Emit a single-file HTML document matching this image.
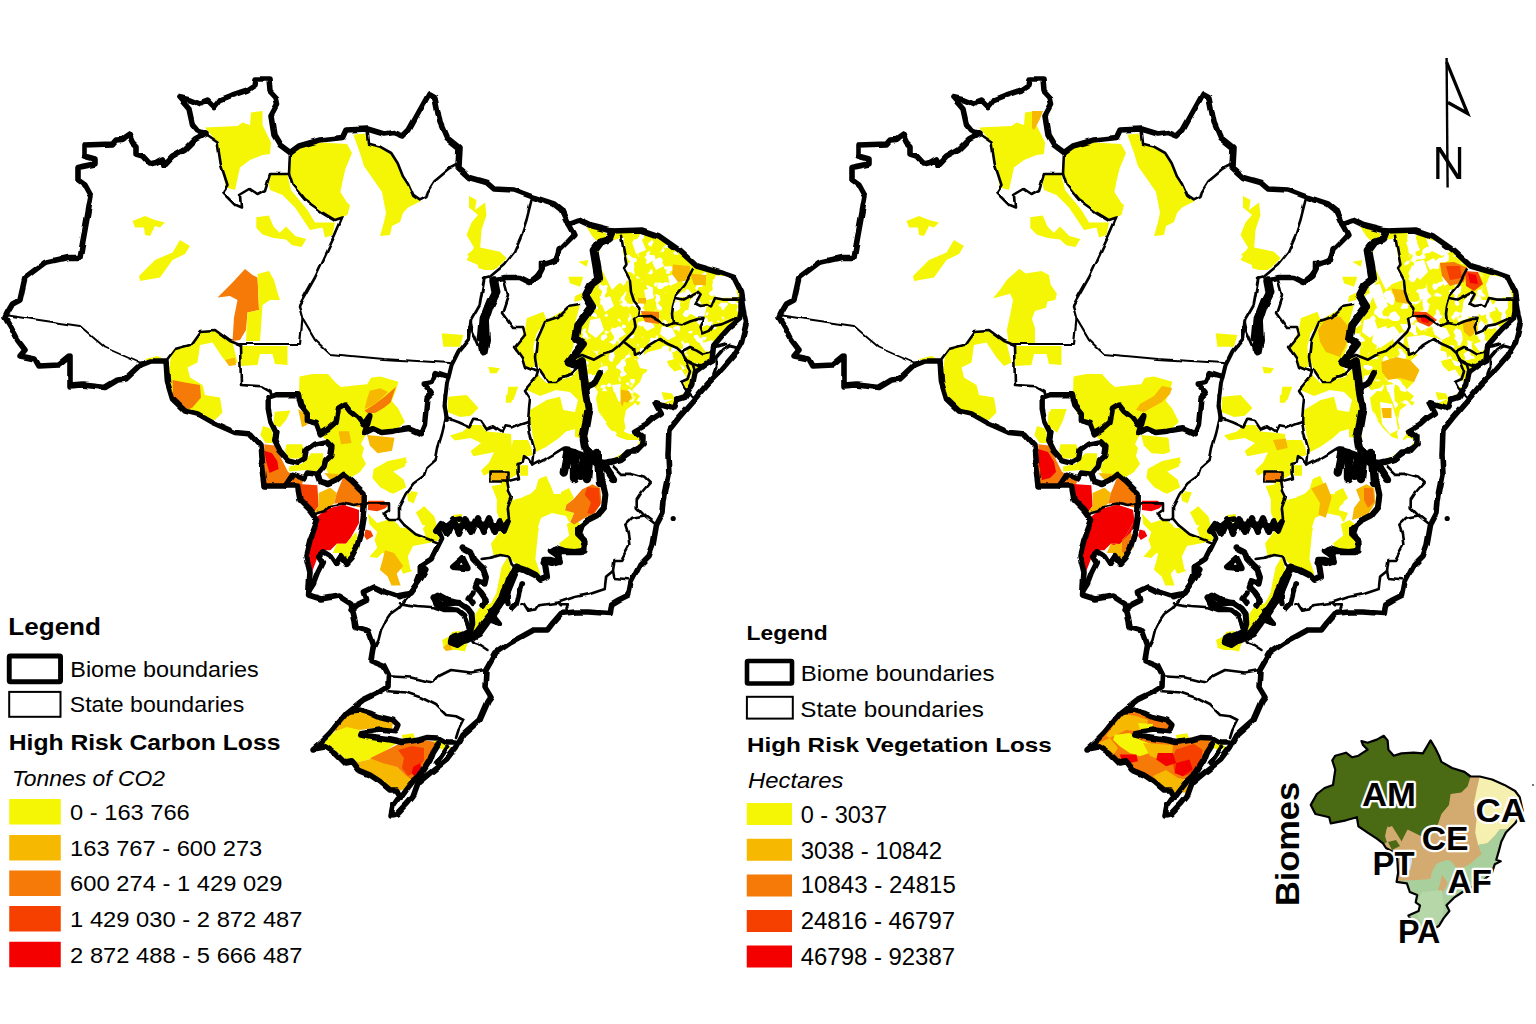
<!DOCTYPE html>
<html><head><meta charset="utf-8"><title>Brazil high risk carbon and vegetation loss</title>
<style>
html,body{margin:0;padding:0;background:#fff;}
body{width:1536px;height:1024px;overflow:hidden;font-family:"Liberation Sans",sans-serif;}
svg{display:block;}
text{font-family:"Liberation Sans",sans-serif;fill:#000;}
</style></head><body>
<svg width="1536" height="1024" viewBox="0 0 1536 1024">
<rect width="1536" height="1024" fill="#fff"/>
<defs>
<path id="br" d="M7.5 312.5 L12.5 304 L20 300 L25 277.5 L45 262.5 L67.5 257.5 L80 257.5 L91 196 L85 185 L78 180 L78 167.5 L95 164 L95 159 L84 156 L84 145 L112.5 144 L116 140 L122.5 139.5 L129 135 L132.5 142.5 L136 146 L136 154 L142.5 156 L150 164 L156 162.5 L162.5 159 L164 165 L172.5 156 L185 149 L194 140 L205 134 L197.5 131 L192.5 125 L189 109 L179 97.5 L190 100 L200 104 L207.5 101 L214 107.5 L220 100 L232.5 95 L247.5 90 L255 85 L256 79 L269 79 L270 91 L276 97.5 L277.5 104 L271 116 L274 135 L280 145 L290 152.5 L299 146 L320 140 L342.5 137.5 L346 130 L367.5 129 L384 134 L394 132.5 L403 136 L409 130 L429 94 L435 97.5 L440 122.5 L446.5 137.5 L459 147.5 L458 167.5 L469 177.5 L486.5 182.5 L494 189 L514 190 L534 197.5 L554 204 L561.5 210 L568 224 L579 220 L591.5 226 L611.5 231 L641.5 230 L659 236 L679 250 L696.5 266 L724 274 L734 277.5 L741.5 292.5 L745 315 L746.5 322.5 L741.5 342.5 L734 355 L719 372.5 L706.5 385 L694 400 L679 417.5 L669 430 L668 455 L669 475 L664 500 L663 512.5 L656.5 525 L653 545 L649 556 L640 565 L631 582.5 L628.5 595 L618.5 600 L611.7 604 L610.3 613.5 L588.4 612 L574.7 612 L561 613.5 L552.8 623 L547.4 630 L533.7 630 L511 642.5 L496 652.5 L486 670 L485 687.5 L491 697.5 L488 701.7 L480 720 L463 735 L456.7 746.7 L446.7 760 L430 773 L418 783 L413 796.7 L408 803 L396.7 815 L391 816 L393 806 L400 796 L396.7 790 L390 790 L380 781.7 L370 775 L358 770 L351.7 761.7 L345 763 L335 753 L325 746.7 L313 749 L320 743 L330 733 L346.7 713 L363 700 L380 691.7 L388 686.7 L388.5 675 L383.5 665 L371 660 L373.5 645 L368.5 631 L356 627.5 L355 620 L351 604 L338.5 596 L321 599 L308.5 595 L310 572.5 L306 556 L310 540 L317.5 520 L310 510 L300 500 L297.5 486 L265 486 L262.5 464 L261 445 L251 434 L235 432.5 L212.5 422.5 L197.5 414 L185 411 L172.5 399 L167.5 382.5 L166 361 L150 361 L140 365 L125 379 L117.5 380 L105 387.5 L82.5 385 L70 386 L70 356 L59 365 L39 366 L35 359 L20 356 L25 350 L17.5 340 L11 327.5 L5 317.5Z"/>
<clipPath id="brc"><use href="#br"/></clipPath>
<clipPath id="caat"><polygon points="612,232 609.5,238.4 601.5,241 594.5,250.3 596.9,264.4 599.2,278.4 589.8,285.5 585.1,294.8 592.2,306.6 585.1,316 578.1,325.3 575.8,339.4 583,344 575.8,353.4 568.75,362.8 575.6,365 582,361 583.4,371.5 584.7,382 586,393.6 588.6,408 586,423.5 583.4,436.5 586,447 590,457.4 596.5,462.6 599,465 609.5,462.6 621,458.7 627.7,452 635.5,452 643,444 643,436.5 635.5,431 646,425 653.7,418 661.5,413 656,402.7 664,405 674.6,408 677,400 685,397.5 692.8,384.5 695.4,371.5 703,366 712,361 713.6,345.4 722.8,334.8 729,328 739.7,319 741,310 741,293 741,285 734,277.5 724,274 696.5,266 679,250 659,236 641.5,230 612,231"/></clipPath>
<filter id="spk1" x="0" y="0" width="1" height="1" color-interpolation-filters="sRGB">
<feTurbulence type="fractalNoise" baseFrequency="0.11" numOctaves="2" seed="7"/>
<feColorMatrix type="matrix" values="0 0 0 0 1  0 0 0 0 1  0 0 0 0 1  16 0 0 0 -9.3"/></filter>
<filter id="spk2" x="0" y="0" width="1" height="1" color-interpolation-filters="sRGB">
<feTurbulence type="fractalNoise" baseFrequency="0.09" numOctaves="2" seed="11"/>
<feColorMatrix type="matrix" values="0 0 0 0 1  0 0 0 0 1  0 0 0 0 1  16 0 0 0 -8.8"/></filter>
<filter id="wob" x="-2%" y="-2%" width="104%" height="104%" filterUnits="objectBoundingBox">
<feTurbulence type="fractalNoise" baseFrequency="0.07" numOctaves="1" seed="4" result="t"/>
<feDisplacementMap in="SourceGraphic" in2="t" scale="4.5" xChannelSelector="R" yChannelSelector="G"/></filter>
<g id="lin" filter="url(#wob)">
<path d="M5 315 L80 326 L105 347.5 L139 362.5 L150 361" fill="none" stroke="#000" stroke-width="1.8" stroke-linejoin="round" stroke-linecap="round"/>
<path d="M166 361 L175 349 L190 345 L200 331 L215 330 L230 341 L240 345" fill="none" stroke="#000" stroke-width="2.6" stroke-linejoin="round" stroke-linecap="round"/>
<path d="M240 345 L241 385 L250 385.6 L261.7 386.3 L269.5 390.8 L270.8 397.3" fill="none" stroke="#000" stroke-width="2.6" stroke-linejoin="round" stroke-linecap="round"/>
<path d="M240 344 L300 344 L302.5 319 L299 306" fill="none" stroke="#000" stroke-width="2.2" stroke-linejoin="round" stroke-linecap="round"/>
<path d="M302.5 319 L315 340 L330 354 L384 359 L450 363" fill="none" stroke="#000" stroke-width="2.2" stroke-linejoin="round" stroke-linecap="round"/>
<path d="M205 134 L217.5 142.5 L221 165 L227.5 185 L222.5 192.5 L235 205 L241 207.5 L240 195 L250 189 L257.5 194 L265 190 L270 174 L289 174 L290 152.5" fill="none" stroke="#000" stroke-width="2.6" stroke-linejoin="round" stroke-linecap="round"/>
<path d="M289 174 L292.5 185 L305 200 L322.5 212.5 L335 220 L342.5 217.5 L335 235 L315 277.5 L299 306" fill="none" stroke="#000" stroke-width="2.6" stroke-linejoin="round" stroke-linecap="round"/>
<path d="M367.8 132 L369 143.8 L379.5 146.4 L391.2 153 L397.7 163.3 L403 176.4 L408 184 L413.3 195.9 L419.8 200.4 L426.4 197.2 L427.7 192 L434.2 181.6 L442 175 L449.8 168.5 L457 164.6" fill="none" stroke="#000" stroke-width="2.6" stroke-linejoin="round" stroke-linecap="round"/>
<path d="M531.5 200 L526.5 220 L521.5 235 L514 252.5 L504 265 L489 277.5 L483 279" fill="none" stroke="#000" stroke-width="2.6" stroke-linejoin="round" stroke-linecap="round"/>
<path d="M493 278 L507 277 L517 276 L530 283 L540 270 L540 262 L553 262 L560 248 L567 240 L574 232" fill="none" stroke="#000" stroke-width="2.6" stroke-linejoin="round" stroke-linecap="round"/>
<path d="M504 280 L508 295 L502 313 L513 328 L523 328 L525 335 L515 347 L522 357 L525 367 L537 372 L535 378 L525 390 L530 398 L528 421" fill="none" stroke="#000" stroke-width="2.6" stroke-linejoin="round" stroke-linecap="round"/>
<path d="M580 305 L568 307 L557 318 L545 322 L537 340 L535 357 L537 372" fill="none" stroke="#000" stroke-width="2.6" stroke-linejoin="round" stroke-linecap="round"/>
<path d="M540 370 L548 382 L557 382 L563 378 L572 375 L580 360" fill="none" stroke="#000" stroke-width="2.6" stroke-linejoin="round" stroke-linecap="round"/>
<path d="M621 235.8 L623.8 251.5 L626.4 264.5 L623.8 268.4 L630 280 L631 291.8 L634 301 L639.4 307.4 L638 316.6 L634 319 L635.5 327 L633 332 L625 340 L617 348 L612 352 L603 354.5 L594 359.7 L582 355 L575 358" fill="none" stroke="#000" stroke-width="2.6" stroke-linejoin="round" stroke-linecap="round"/>
<path d="M560 379 L567.8 376.7 L574 371.5 L580 366" fill="none" stroke="#000" stroke-width="2.6" stroke-linejoin="round" stroke-linecap="round"/>
<path d="M638 316.6 L651 316 L659 320.5 L666.8 325.7 L673 323" fill="none" stroke="#000" stroke-width="2.6" stroke-linejoin="round" stroke-linecap="round"/>
<path d="M692.8 270 L685 285 L676 295.7 L673 306 L672 314 L673 323" fill="none" stroke="#000" stroke-width="2.6" stroke-linejoin="round" stroke-linecap="round"/>
<path d="M676 298 L683.7 299.6 L698 291.8 L700.6 294.4 L695.4 303.5 L700.6 306 L707 305 L711 307.4 L715 298 L722.8 299.6 L738 299.6" fill="none" stroke="#000" stroke-width="2.6" stroke-linejoin="round" stroke-linecap="round"/>
<path d="M673 323 L681 324.4 L690 320.5 L698 317.9 L704.5 317.9 L700.6 327 L703 333.5 L709.7 330.9 L713.6 325.7 L721.5 324.4 L736 318" fill="none" stroke="#000" stroke-width="2.6" stroke-linejoin="round" stroke-linecap="round"/>
<path d="M625 342.8 L633 349 L634 355.8 L640.7 353 L648.5 345.4 L659 339 L668 344 L677 348 L682.4 353 L685 358.4 L695.4 363.6 L703 366" fill="none" stroke="#000" stroke-width="2.6" stroke-linejoin="round" stroke-linecap="round"/>
<path d="M682.4 352 L690 348 L696.7 350.6 L703 354.5 L709.7 353 L716 346.7 L726 344" fill="none" stroke="#000" stroke-width="2.6" stroke-linejoin="round" stroke-linecap="round"/>
<path d="M685 358.4 L690 371.5 L687.6 379 L681 382 L685 389.7 L690 395 L694 399" fill="none" stroke="#000" stroke-width="2.6" stroke-linejoin="round" stroke-linecap="round"/>
<path d="M686 359.7 L692.8 363.6 L695.4 371.5" fill="none" stroke="#000" stroke-width="2.6" stroke-linejoin="round" stroke-linecap="round"/>
<path d="M444.7 395 L446 417 L442 434 L438 447 L435.6 460 L426.5 468 L423.9 475.7 L413.4 483.5 L405.6 494 L399 507 L399 518.7 L404.3 525" fill="none" stroke="#000" stroke-width="2.6" stroke-linejoin="round" stroke-linecap="round"/>
<path d="M404.3 525 L407.8 527.8 L415.6 534.3 L426 538.2 L439 543.4" fill="none" stroke="#000" stroke-width="2.6" stroke-linejoin="round" stroke-linecap="round"/>
<path d="M316 513.8 L325 511.25 L330.3 506 L343.3 503.4 L353.75 506 L366.8 503.4 L389 503.4 L389 510 L383.7 513.8 L390.2 519 L398 519" fill="none" stroke="#000" stroke-width="2.6" stroke-linejoin="round" stroke-linecap="round"/>
<path d="M447.3 418.4 L457.7 422.3 L469.4 427.5 L473.3 419.7 L481 421 L486.4 428.9 L494 426.25 L502 431.5 L504.6 426.25 L511 427.5 L520.2 423.6 L528 421" fill="none" stroke="#000" stroke-width="2.6" stroke-linejoin="round" stroke-linecap="round"/>
<path d="M528 421 L530 434 L534.5 449.7 L533.2 465.3" fill="none" stroke="#000" stroke-width="2.6" stroke-linejoin="round" stroke-linecap="round"/>
<path d="M533.2 465.3 L528 458.8 L524 456.2 L522.8 462.7 L517.6 464 L517.6 473 L519 478.3 L508.5 481" fill="none" stroke="#000" stroke-width="2.6" stroke-linejoin="round" stroke-linecap="round"/>
<path d="M533.2 465.3 L543.6 460 L553.3 454.3 L563.75 447.8 L569 447.8" fill="none" stroke="#000" stroke-width="2.6" stroke-linejoin="round" stroke-linecap="round"/>
<path d="M507.2 482.2 L509 492 L511.7 497.3 L507.8 507.7 L509 518 L503.9 523.3 L500 531" fill="none" stroke="#000" stroke-width="2.6" stroke-linejoin="round" stroke-linecap="round"/>
<path d="M613 466 L621 473.9 L631.5 473.9 L644.5 477.8 L649.7 483 L641.9 492 L636.7 500 L636.7 507.7 L644.5 515.5 L654 523" fill="none" stroke="#000" stroke-width="2.6" stroke-linejoin="round" stroke-linecap="round"/>
<path d="M644.5 515.5 L632.2 517.8 L625.3 524.6 L628 532.8 L629.4 545 L624 554.7 L621.2 560 L614.4 560 L613 571 L614.4 578 L628 579.3" fill="none" stroke="#000" stroke-width="2.6" stroke-linejoin="round" stroke-linecap="round"/>
<path d="M522.4 603.3 L524 604 L528.2 610.8 L536.4 609.4 L539 605.3 L558.3 602.6 L574.7 597 L588.4 594.4 L604.8 589 L606.2 576.6 L613 571" fill="none" stroke="#000" stroke-width="2.6" stroke-linejoin="round" stroke-linecap="round"/>
<path d="M558.3 602.6 L561 605.3 L567.9 605.3 L566.5 609.4" fill="none" stroke="#000" stroke-width="2.6" stroke-linejoin="round" stroke-linecap="round"/>
<path d="M480.7 559 L491 557.8 L500.3 555 L508 556.5 L510.7 564.3 L514.6 568" fill="none" stroke="#000" stroke-width="2.6" stroke-linejoin="round" stroke-linecap="round"/>
<path d="M400 603.3 L407.8 604.6 L418.2 606 L433.9 607.2 L444.3 611 L457.3 611 L463.8 616.4 L466.4 626.8 L470 636 L473 642.4 L480.7 645 L488.5 650" fill="none" stroke="#000" stroke-width="2.6" stroke-linejoin="round" stroke-linecap="round"/>
<path d="M409.7 594.6 L398.5 608 L390.2 614 L386 620 L381 630 L378.5 640 L373.5 650" fill="none" stroke="#000" stroke-width="2.6" stroke-linejoin="round" stroke-linecap="round"/>
<path d="M388.5 676.25 L411 677.5 L426 681.25 L433.5 682.5 L438.5 676.25 L451 670 L471 672.5 L485 670" fill="none" stroke="#000" stroke-width="2.6" stroke-linejoin="round" stroke-linecap="round"/>
<path d="M388.5 691.25 L406 692.5 L421 697.5 L436 705 L446 715 L456 716.25 L463.5 720 L458.5 730 L456 738" fill="none" stroke="#000" stroke-width="2.6" stroke-linejoin="round" stroke-linecap="round"/>
<path d="M490.5 471.5 L508.5 471.5 L508.5 481.5 L490.5 481.5 L490.5 471.5" fill="none" stroke="#000" stroke-width="2.6" stroke-linejoin="round" stroke-linecap="round"/>
<path d="M568 224 L574 235 L569 240 L559 250 L556.5 260 L544 265 L539 275 L529 282.5 L519 277.5 L504 277.5 L494 280" fill="none" stroke="#000" stroke-width="5.4" stroke-linejoin="round" stroke-linecap="round"/>
<path d="M484.4 278.4 L479.7 304.2 L470.3 320.6 L472.7 332.3 L482 353.4" fill="none" stroke="#000" stroke-width="2.8" stroke-linejoin="round" stroke-linecap="round"/>
<path d="M470.3 320.6 L468 339.4 L458.6 351 L451.6 365 L446.9 384 L444.5 405 L446.9 420" fill="none" stroke="#000" stroke-width="4.08" stroke-linejoin="round" stroke-linecap="round"/>
<path d="M493.75 280.8 L496 292.5 L489 306.6 L484.4 320.6 L485.5 339.4 L483.2 351" fill="none" stroke="#000" stroke-width="9" stroke-linejoin="round" stroke-linecap="round"/>
<path d="M489 300 L482 318 L480 340" fill="none" stroke="#000" stroke-width="4.8" stroke-linejoin="round" stroke-linecap="round"/>
<path d="M447 376 L436.2 372.6 L432.3 381.7 L423.2 383 L432.3 393.4 L427 398.6 L425.8 411.7 L424.5 424.7 L420.6 433.8 L408.9 428.6 L393.2 431.2 L381.5 432.5 L372.4 428.6 L364.6 432.5 L367.2 424.7 L369.8 415.6 L363.3 424.7 L358 418 L350.3 411.7 L345 405 L338.5 409 L336 422 L326.8 430 L320.3 433.8 L316.4 423.4 L307.3 420.8 L307.3 413 L300.8 405 L298.2 394.7 L276 394.7 L268.2 397.3" fill="none" stroke="#000" stroke-width="5.4" stroke-linejoin="round" stroke-linecap="round"/>
<path d="M268.2 397.3 L268.2 409 L270.8 422 L276 432.5 L274.7 440.3 L280 450.7 L287.8 459.8 L298.2 462.4 L304.7 458.5 L306 450.7 L315 444.2 L326.8 441.6 L332 446.8 L330.7 456 L325.5 461 L324.2 466.4 L317.7 474.2 L307.3 472.9 L304.7 478 L293 474.2 L287.8 482 L285 486" fill="none" stroke="#000" stroke-width="5.4" stroke-linejoin="round" stroke-linecap="round"/>
<path d="M317.7 474.2 L320.3 482 L328 484.6 L336 480.7 L343.75 474.2 L351.5 480.7 L358 487.2 L364.2 493 L364.2 506 L362.9 519 L360.3 534.7 L356.4 547.7 L351 558 L346 563.3 L340.7 555.5 L335.5 563.3 L330.3 555.5 L323.8 551.6 L318.6 556.8 L322.5 563.3 L317.3 573.75 L313.4 584 L309.5 590" fill="none" stroke="#000" stroke-width="5.4" stroke-linejoin="round" stroke-linecap="round"/>
<path d="M612 232 L609.5 238.4 L601.5 241 L594.5 250.3 L596.9 264.4 L599.2 278.4 L589.8 285.5 L585.1 294.8 L592.2 306.6 L585.1 316 L578.1 325.3 L575.8 339.4 L583 344 L575.8 353.4 L568.75 362.8 L575.6 365 L582 361 L583.4 371.5 L584.7 382 L586 393.6 L588.6 408 L586 423.5 L583.4 436.5 L586 447 L590 457.4 L596.5 462.6" fill="none" stroke="#000" stroke-width="7.8" stroke-linejoin="round" stroke-linecap="round"/>
<path d="M600 372.8 L594 384.5 L587 388" fill="none" stroke="#000" stroke-width="6" stroke-linejoin="round" stroke-linecap="round"/>
<path d="M741 293 L741 310 L739.7 319 L729 328 L722.8 334.8 L713.6 345.4 L712 361 L703 366 L695.4 371.5 L692.8 384.5 L685 397.5 L677 400 L674.6 408 L664 405 L656 402.7 L661.5 413 L653.7 418 L646 425 L635.5 431 L643 436.5 L643 444 L635.5 452 L627.7 452 L621 458.7 L609.5 462.6 L599 465" fill="none" stroke="#000" stroke-width="5.4" stroke-linejoin="round" stroke-linecap="round"/>
<path d="M737.3 346.9 L729.9 345 L722.8 349 L716 357 L716 367.5 L713.6 374" fill="none" stroke="#000" stroke-width="3" stroke-linejoin="round" stroke-linecap="round"/>
<path d="M583.3 440 L584.6 447.8 L595 458 L600 463.4" fill="none" stroke="#000" stroke-width="7.2" stroke-linejoin="round" stroke-linecap="round"/>
<path d="M567.7 451.7 L563.75 472.5" fill="none" stroke="#000" stroke-width="8.4" stroke-linejoin="round" stroke-linecap="round"/>
<path d="M574 453 L574 479" fill="none" stroke="#000" stroke-width="8.4" stroke-linejoin="round" stroke-linecap="round"/>
<path d="M582 459.5 L580.7 476.5" fill="none" stroke="#000" stroke-width="7.2" stroke-linejoin="round" stroke-linecap="round"/>
<path d="M589.8 453 L587 479" fill="none" stroke="#000" stroke-width="8.4" stroke-linejoin="round" stroke-linecap="round"/>
<path d="M597.6 453 L600 483" fill="none" stroke="#000" stroke-width="8.4" stroke-linejoin="round" stroke-linecap="round"/>
<path d="M602.8 463.4 L613 479" fill="none" stroke="#000" stroke-width="8.4" stroke-linejoin="round" stroke-linecap="round"/>
<path d="M566 450 L600 462" fill="none" stroke="#000" stroke-width="7.2" stroke-linejoin="round" stroke-linecap="round"/>
<path d="M600 463.4 L608 462 L619.7 459.5 L628.9 453 L639.3 446.5 L643 444" fill="none" stroke="#000" stroke-width="5.4" stroke-linejoin="round" stroke-linecap="round"/>
<path d="M602.8 483 L605.4 494.7 L604 507.7 L597.6 515.5 L587.2 520.7 L578 528.5 L578 535 L584.6 541.6 L584.6 550.7 L574.2 552 L563.75 550.7 L556 548 L550.7 550.7 L558.5 555.9 L559.8 562.4 L550.7 559.8 L544.2 559.8 L545.8 569.5 L547 577.3 L540.6 580 L535.4 574.7 L525 569.5 L517.2 566.9 L514.6 572 L509.4 585 L506.8 598 L499 606 L491 611 L493.75 616.4 L499 622.9 L488.5 619 L483.3 624 L478 632 L473 637.2 L465 639.8 L457.3 645 L450.8 642.4 L452 638.5 L462.5 634.6 L470.3 630.7 L472.3 624 L471.6 613.75 L467.7 608.5 L459.9 603.3 L446.9 600.7 L437.8 595.5 L433.9 598" fill="none" stroke="#000" stroke-width="6" stroke-linejoin="round" stroke-linecap="round"/>
<path d="M433.9 599.4 L436.5 604.6 L444.3 608.5 L457.3 609.8 L463.8 615 L466.4 622.9 L467.7 628" fill="none" stroke="#000" stroke-width="4.8" stroke-linejoin="round" stroke-linecap="round"/>
<path d="M543.2 561.7 L551 564.3 L560 561.7 L556.25 553.9 L553.6 548.6 L562.8 552.6 L582.3 552.6 L584.9 546 L579.7 533 L582.3 525.2 L587.5 520" fill="none" stroke="#000" stroke-width="5.4" stroke-linejoin="round" stroke-linecap="round"/>
<path d="M522.4 583.8 L519.8 593 L517.2 603.3 L512 608.5" fill="none" stroke="#000" stroke-width="5.4" stroke-linejoin="round" stroke-linecap="round"/>
<path d="M512 574.7 L506.8 581.2 L504 590.3 L506.8 598 L508 604.6" fill="none" stroke="#000" stroke-width="5.4" stroke-linejoin="round" stroke-linecap="round"/>
<path d="M462.5 547.3 L470.3 551.25 L473 559 L478 564.3 L483.3 569.5 L486 577.3 L484.6 583.8 L478 581.2 L475.5 587.7 L480.7 593 L486 600.7 L483.3 606" fill="none" stroke="#000" stroke-width="6" stroke-linejoin="round" stroke-linecap="round"/>
<path d="M462.5 557.8 L452 566.9 L467.7 568.2 L462.5 557.8" fill="none" stroke="#000" stroke-width="6" stroke-linejoin="round" stroke-linecap="round"/>
<path d="M473 593 L469 598 L473 603.3" fill="none" stroke="#000" stroke-width="5.4" stroke-linejoin="round" stroke-linecap="round"/>
<path d="M436 531 L441 524 L447 534 L453 520 L459 533 L465 519 L471 532 L477 518 L483 532 L489 519 L495 533 L500 521 L504 531 L508 521" fill="none" stroke="#000" stroke-width="6" stroke-linejoin="round" stroke-linecap="round"/>
<path d="M442 527 L455 526 L470 525 L485 525 L505 526" fill="none" stroke="#000" stroke-width="4.8" stroke-linejoin="round" stroke-linecap="round"/>
<path d="M400 596.8 L410.4 593 L419.5 580 L426 569.5 L420.8 565.6 L431.25 559 L437.8 546 L441.7 538.2 L437.8 529 L446.9 526.5 L454.7 520 L460 519" fill="none" stroke="#000" stroke-width="5.4" stroke-linejoin="round" stroke-linecap="round"/>
<path d="M420.2 566 L420.2 573.75 L416.25 584 L409.7 593.3 L396.7 595.9 L385 592 L374.6 586.8 L364.2 592 L366.8 599.8 L356.4 605 L351 610" fill="none" stroke="#000" stroke-width="5.4" stroke-linejoin="round" stroke-linecap="round"/>
<path d="M433.2 597.2 L442.3 605 L460 602.4" fill="none" stroke="#000" stroke-width="5.4" stroke-linejoin="round" stroke-linecap="round"/>
<path d="M516 568 L509 585 L503 598 L494 612 L486 622 L478 633 L466 639 L454 642" fill="none" stroke="#000" stroke-width="9" stroke-linejoin="round" stroke-linecap="round"/>
<path d="M512 574.7 L504 590.3 L499 606" fill="none" stroke="#000" stroke-width="7.2" stroke-linejoin="round" stroke-linecap="round"/>
<path d="M350 711 L360 710 L370 713 L376.7 716 L393 720 L398 725 L395 731.7 L380 730 L363 732.5 L361.7 735 L373 737.5 L390 740 L401.7 742.5 L418 740 L426.7 737.5 L438 738 L446.7 743 L455 743" fill="none" stroke="#000" stroke-width="5.4" stroke-linejoin="round" stroke-linecap="round"/>
<path d="M438 744 L433 752 L430 760 L422 773 L413 781 L406 790 L401 797" fill="none" stroke="#000" stroke-width="6" stroke-linejoin="round" stroke-linecap="round"/>
<path d="M447 748 L441 757 L436 763" fill="none" stroke="#000" stroke-width="4.8" stroke-linejoin="round" stroke-linecap="round"/>

<use href="#br" fill="none" stroke="#000" stroke-width="5.6" stroke-linejoin="round"/>
</g>
</defs>
<g clip-path="url(#brc)"><polygon fill="#f5f506" points="205,127.5 237.5,126 242.5,122.5 250,125 251,112.5 262.5,111 262.5,125 271,142.5 270,154 262.5,155 250,160 240,167.5 235,190 226,187.5 221,165 217.5,142.5"/>
<polygon fill="#f5f506" points="290,152.5 299,147.5 320,142.5 347,144 352,153 345.6,168.5 343,179 340.4,192 347,202.4 350,205 347.5,215 335,220 322.5,212.5 305,200 292.5,185 290,174"/>
<polygon fill="#f5f506" points="353.4,134.7 365,133.4 367.8,143.8 379.5,146.4 391.2,153 397.7,163.3 403,176.4 408,184 413.3,196 421,201 408,207.6 403,213 400,222 392,226 390,235 380,236 384,222 386,213 382,192 373,179 363.9,166 360,153"/>
<polygon fill="#f5f506" points="270,175 287.5,175 291,190 307.5,210 315,222.5 335,222.5 332.5,235 325,237.5 322.5,227.5 310,230 295,207.5 282.5,195 270,190 267.5,180"/>
<polygon fill="#f5f506" points="256.3,217.2 268.8,215.6 273.5,226.6 279.75,232.8 286,226.6 295.4,236 306.3,239 301.6,246.9 292.25,245.3 286,239.5 273.5,238 262.6,234.4 256.3,228"/>
<polygon fill="#f5f506" points="132.5,221 145,216 155,220 165,222.5 160,227.5 155,226 150,236 145,235 144,227.5 135,227.5"/>
<polygon fill="#f5f506" points="180,240 190,246 185,254 172.5,260 160,277.5 140,281 139,276 155,260 172.5,252.5"/>
<polygon fill="#f5f506" points="145,359 157.5,356 166,360 150,362.5"/>
<polygon fill="#f5f506" points="170,362.5 172.5,350 190,345 200,332.5 215,331 232.5,342.5 237.5,362.5 230,366 222.5,357.5 212.5,342.5 200,345 197.5,362.5 187.5,367.5 190,377.5 202.5,385 205,395 220,397.5 222.5,412.5 215,420 207.5,419 197.5,414 185,411 173,399 168,382.5"/>
<polygon fill="#f5f506" points="241,346 287.5,346 287.5,365 275,364 272.5,354 260,354 257.5,365 241,366"/>
<polygon fill="#f5f506" points="469,196 476.5,200 475,210 485,202.5 486.5,215 481.5,230 480,250 496.5,255 504,257.5 494,270 484,270 478,265 466.5,260 474,247.5 466.5,235 471.5,222.5 478,215 469,207.5"/>
<polygon fill="#f5f506" points="441.7,333.3 463.3,335 460,346.7 443.3,346.7"/>
<polygon fill="#f5f506" points="466.7,255 476.7,246.7 500,251.7 506.7,258.3 496.7,268.3 486.7,270 478.3,268.3 476.7,258.3"/>
<polygon fill="#f5f506" points="568.3,276.7 583.3,276.7 580,286.7 570,283.3"/>
<polygon fill="#f5f506" points="578.3,261.7 588.3,260 586.7,266.7"/>
<polygon fill="#f5f506" points="586,226 606,233 608,240 598,242 592,236"/>
<polygon fill="#f5f506" points="575,296 584,292 582,300 574,302"/>
<polygon fill="#f5f506" points="546.7,320 570,306.7 580,305 575,323.3 573.3,346.7 566.7,363.3 573.3,373.3 563.3,378.3 556.7,381.7 548.3,381.7 540,370 535,356.7 536.7,340"/>
<polygon fill="#f5f506" points="526.7,318.3 543.3,311.7 546.7,320 536.7,333.3 533.3,346.7 535,366.7 526.7,368.3 521.7,356.7 515.8,346.7 521.7,336.7 525,330"/>
<polygon fill="#f5f506" points="526.7,390 536.7,373.3 546.7,383.3 571.7,376.7 580,366.7 585,390 586.7,410 584,430 581,438 575,437 575,429 566,431.5 559,438 546,447 536,452 533,437 530,421 530,410 546.7,400 560,396.7 563.3,410 575,412 578,400 570,392 556,390 540,396"/>
<polygon fill="#f5f506" points="488.3,366.7 500,368.3 496.7,373.3 490,373.3"/>
<polygon fill="#f5f506" points="508.3,386.7 518.3,386.7 513.3,400 506.7,400"/>
<polygon fill="#f5f506" points="448.3,396.7 466.7,395 478.5,408 470.7,415.8 460.3,417 447.3,412"/>
<polygon fill="#f5f506" points="505.9,395 515,395 511,402.8 505.9,402.8"/>
<polygon fill="#f5f506" points="612,232 609.5,238.4 601.5,241 594.5,250.3 596.9,264.4 599.2,278.4 589.8,285.5 585.1,294.8 592.2,306.6 585.1,316 578.1,325.3 575.8,339.4 583,344 575.8,353.4 568.75,362.8 575.6,365 582,361 583.4,371.5 584.7,382 586,393.6 588.6,408 586,423.5 583.4,436.5 586,447 590,457.4 596.5,462.6 599,465 609.5,462.6 621,458.7 627.7,452 635.5,452 643,444 643,436.5 635.5,431 646,425 653.7,418 661.5,413 656,402.7 664,405 674.6,408 677,400 685,397.5 692.8,384.5 695.4,371.5 703,366 712,361 713.6,345.4 722.8,334.8 729,328 739.7,319 741,310 741,293 741,285 734,277.5 724,274 696.5,266 679,250 659,236 641.5,230 612,231"/>
<g clip-path="url(#caat)"><rect x="560" y="220" width="200" height="260" filter="url(#spk1)"/></g><polygon fill="#ffffff" points="600,245 620,238 623,252 626,265 624,270 629,280 618,284 612,290 606,278 598,262"/>
<polygon fill="#ffffff" points="716,275 734,278 738,297 722,298 715,297 712,285"/>
<polygon fill="#ffffff" points="690,300 698,293 700,296 695,304 700,307 707,306 704,317 696,317 688,312"/>
<polygon fill="#ffffff" points="650,370 640,368 637,360 648,352 661,348.7 672,352 674,360 683,372 688,380 682,384 686,392 676,398 664,403 655,401 660,412 650,420 640,428 636,432 626,430 624,420 626,410 634,404 640,396 632,390 640,382 643,374"/>
<polygon fill="#ffffff" points="590,376 598,374 594,386 598,392 596,398 598,410 603,420 609,428 618,437 627,440 640,440 636,450 625,452 610,460 598,462 590,455 587,440 589,425 590,410 588,395"/>
<polygon fill="#ffffff" points="604,392 614,393 612,385 621,384 620,390 621,403 616,399 608,397"/>
<polygon fill="#f5f506" points="603,391 614.7,392 621,408 621,418 625,428.7 620,436.5 609.5,426 603,418 599,408 596.5,397.5"/>
<polygon fill="#ffffff" points="662,326 672,328 676,336 668,340 660,334"/>
<polygon fill="#ffffff" points="640,323 650,321 655,327 647,331"/>
<polygon fill="#ffffff" points="600,300 610,296 614,306 605,312"/>
<polygon fill="#ffffff" points="590,320 600,318 604,330 596,338 588,332"/>
<polygon fill="#ffffff" points="610,330 620,326 626,334 616,340"/>
<polygon fill="#ffffff" points="652,262 660,258 664,266 656,270"/>
<polygon fill="#ffffff" points="632,242 642,240 646,250 636,254"/>
<polygon fill="#ffffff" points="668,276 676,274 678,282 670,286"/>
<polygon fill="#ffffff" points="644,290 652,288 654,298 646,300"/>
<polygon fill="#ffffff" points="700,344 712,340 716,346 706,352"/>
<polygon fill="#ffffff" points="694,372 704,368 708,376 700,382 692,384"/>
<polygon fill="#f5f506" points="666.8,361 677,358.4 682.4,369 674.6,371.5 669,366"/>
<polygon fill="#f5f506" points="661.5,392 672,393.6 674.6,398.8 664,400"/>
<polygon fill="#f5f506" points="633,400 640.7,402 638,406"/>
<polygon fill="#f5f506" points="449.9,435.4 462.9,431.5 470.7,425 481,425 486.4,431.5 500.7,432.8 511,434 512.4,455 507.2,470.5 494,470.5 483.75,475.7 481,470.5 489,462.7 494,452.3 473.3,456.2 470.7,451 481,443 470.7,438 455,440.6"/>
<polygon fill="#f5f506" points="491.6,486 507.2,483.5 509,492 511.7,497.3 507.8,507.7 509,518 502,525.2 496.8,512.2 496.8,499.2"/>
<polygon fill="#f5f506" points="520.2,465.3 528,465.3 528,475.7 520.2,475.7"/>
<polygon fill="#f5f506" points="538.4,479.6 546.25,475.7 554,494 564.5,494 569.7,503 559.3,512.2 552,520 540.6,520 538,533 536.7,546 535.4,559 540.6,574.7 530.2,572 517.2,565.6 510.7,559 506.8,555 493.75,556.5 491,543.4 499,533 504,525 509,518 509.8,512.2 515,499.2 528,496.6 535.8,488.75"/>
<polygon fill="#f5f506" points="513,440 528,440 531,447 533,455 524.7,457 516.9,464.7 518.2,473.9 509,479 509,492 511.7,497.3 522,513 527.3,502.5 522,497.3 535,492 540.3,477.8 545.5,477.8 550.7,485.6 553.3,497.3 561,501 561,492 569,488 574,498 566,505 565,510 574,513 570,522 560,518 552,510 545,505 538,500 530,505 522,515 514,518 505,520 504,500 500,480 505,470 510,455"/>
<polygon fill="#ffffff" points="541,518 552,513 566,516 570,524 566,534 560,540 550,541 543,536 538,527"/>
<polygon fill="#f5f506" points="508,556.5 512,572 504,585 499,598 491,608.5 483.3,619 475.5,632 470.3,637.2 475.5,613.75 480.7,606 491,603.3 496.4,593 499,580 501.6,566.9"/>
<polygon fill="#f5f506" points="566.7,524 575.8,520 582.3,525.2 579.7,533 584.9,546 582.3,552.6 564,552.6 558.9,543.4 569.3,535.6"/>
<polygon fill="#f5f506" points="574,528 584,541 584,551 572,552 566,546"/>
<polygon fill="#f5f506" points="400,527.8 407.8,527.8 415.6,534.3 426,538.2 423.4,527.8 433.9,525.2 439,540.8 426,543.4 413,546 407.8,556.5 410.4,569.5 400,564.3"/>
<polygon fill="#f5f506" points="443,647.6 452,632 461,630.7 457.3,645 467.7,642.4 465,651.5 457.3,650 449.5,650"/>
<polygon fill="#f5f506" points="390,399 397.8,408 403,421 397.8,427.5 390,428.9"/>
<polygon fill="#f5f506" points="390,462.7 405.6,457.5 407,462.7 395.2,468 390,468"/>
<polygon fill="#f5f506" points="390,473 397.8,475.7 403,483.5 395.2,491.4 390,488.75"/>
<polygon fill="#f5f506" points="407,494 416,491.4 413.4,499.2 408.2,501.8"/>
<polygon fill="#f5f506" points="416,512.2 423.9,507 433,517.4 434.3,525.2 422.5,525.2"/>
<polygon fill="#f5f506" points="374.6,480 403.2,480 400.6,487.8 390.2,493 382.4,487.8"/>
<polygon fill="#f5f506" points="409.7,493 417.5,493 413.6,503.4 408.4,500.8"/>
<polygon fill="#f5f506" points="416.25,513.8 424,506 434.5,516.5 437,526.9 439.7,539.9 429.3,537.3 422.8,529.5 426.7,523"/>
<polygon fill="#f5f506" points="452.7,515 462,514 462,523 456,522"/>
<polygon fill="#f5f506" points="368,513.8 377.2,523 390.2,519 398,524.3 403.2,532 416.25,536 413.6,545 407,553 403.2,563.3 412.3,571 403.2,573.75 394,556 382.4,553 377.2,558 369.4,556.8 377.2,547.7 374.6,539.9 377.2,532 369.4,524.3"/>
<polygon fill="#f5f506" points="286.5,444.2 302,444.2 304.7,450.7 302,458.5 289,458.5 285,450.7"/>
<polygon fill="#f5f506" points="274.7,411.7 290.4,410.4 286.5,419.5 280,427.3 273.4,424.7"/>
<polygon fill="#f5f506" points="263,426 270.8,428.6 276,443 265.6,443 260.4,435"/>
<polygon fill="#f5f506" points="311.2,453.3 323,453.3 323,463.75 316.4,471.5 306,470 289,471.5 289,466.4 302,463.75"/>
<polygon fill="#f5f506" points="333,469 341,461 359.4,458.5 362,463.75 356.8,474.2 349,472.9 341,471.5"/>
<polygon fill="#f5f506" points="388,461 406.25,457.2 405,466.4 393.2,471.5 403.6,479.4 406.25,487.2 393.2,493.7 380.2,487.2 372.4,478 373.7,469"/>
<polygon fill="#f5f506" points="410,491 418,492.4 414,500"/>
<polygon fill="#f5f506" points="333,445 345,440 358,440 364,448 362,456 366,464 360,472 350,478 343,474 336,480 330,478 326,468 331,458"/>
<polygon fill="#f5f506" points="336.8,543.8 346,543.8 356.4,532 359,547.7 351,558 346,560.7 340.7,553 333,553"/>
<polygon fill="#f5f506" points="442,640 450,636 452,644 444,648"/>
<polygon fill="#f5f506" points="330,735 346.7,725 360,730 361.7,736.7 380,740 396.7,743.3 386.7,750 373.3,758.3 360,761.7 346.7,760 335,750 323.3,745"/>
<polygon fill="#f6b800" points="349,710 360,710 373.3,715 393.3,720 392,730 373.3,728.3 360,730 346.7,727 334,732 340,721"/>
<polygon fill="#f6b800" points="346.7,760 360,761.7 373.3,758.3 386.7,763.3 396,766 403.3,773.3 411.7,778.3 410,786.7 396.7,792 386.7,786 376,778 364,771 356,766"/>
<polygon fill="#f67a08" points="370,758.3 386.7,750 396.7,745 423.3,740 436,742 433,752 430,760 422,773 413,781 403.3,773.3 396.7,766.7 383.3,763.3"/>
<polygon fill="#f54000" points="398,750 412,746 424,748 424,760 416,772 408,776 402,768 404,758"/>
<polygon fill="#f40000" points="413.3,766.7 420,763.3 421.7,770 415,776.7 411.7,773.3"/>
<polygon fill="#f5f506" points="433.3,740 446.7,743.3 451.7,748.3 443.3,750 436.7,746.7"/>
<polygon fill="#f5f506" points="401.7,735 413.3,733.3 415,738.3 403.3,740"/>
<polygon fill="#f5f506" points="299.5,376.5 312.5,374 328,374 336,383 341,387 354,385.6 367.2,384.3 371,377.8 380.2,376.5 398.4,381.7 395.8,390.8 390.6,403.9 398.4,409 405,422 395.8,430 380,432 372,430 366,434 360,446 350,450 340,455 332,447 327,441 322,436 316,424 307,421 300,406 299,395"/>
<polygon fill="#f67a08" points="245,269 252.5,275 257.5,277.5 259,310 247.5,312.5 246,330 240,340 232.5,341 234,317.5 237.5,300 230,296 217.5,297.5 232.5,282.5"/>
<polygon fill="#f5f506" points="257.5,274 269,271 274,280 277.5,292.5 280,300 270,300 262.5,305 261,327.5 260,341 246,341 247.5,312.5 259,310"/>
<polygon fill="#f67a08" points="172.5,380 185,382.5 200,385 201,397.5 192.5,407.5 185,411 173,399"/>
<polygon fill="#f6b800" points="225,360 235,357.5 236,365 229,366"/>
<polygon fill="#f67a08" points="395.8,387 390.6,402.5 384,407.8 375,413 367.2,413 364.6,410.4 375,403.9 385.4,396"/>
<polygon fill="#f6b800" points="369.8,390.8 380.2,388.2 388,392 375,403.9 364.6,409 367.2,398.6"/>
<polygon fill="#f6b800" points="367.2,435 394.5,437.7 392,450.7 377.6,453.3 369.8,445.5"/>
<polygon fill="#f6b800" points="338.5,431.2 349,431.2 351.5,443 341,444.2"/>
<polygon fill="#f6b800" points="298.2,409 306,414.3 307.3,424.7 302,427.3"/>
<polygon fill="#f67a08" points="264.3,444.2 274.7,445.5 281.25,458.5 287.8,471.5 294,476 304,479 301,487 266,487 264,465"/>
<polygon fill="#f40000" points="264.3,450.7 272,453.3 277.3,461 278.6,469 269.5,472.9 266,461"/>
<polygon fill="#f54000" points="299,484 317.3,485.2 318.6,506 314.7,511.25 303,503.4 298,494"/>
<polygon fill="#f6b800" points="318.6,493 330.3,487.8 336.8,493 334.2,503.4 327.7,508.6 317.3,513.8 314.7,511.25 318.6,506"/>
<polygon fill="#f6b800" points="324.2,472.9 341,474.2 333.3,483.3"/>
<polygon fill="#f67a08" points="336.8,493 343.75,476 356.4,488 364,497 363,508 353.75,506 343.3,503.4 334.2,503.4"/>
<polygon fill="#f40000" points="327.7,508.6 343.3,504.7 359,510 359,523 351,537.3 346,543.8 336.8,543.8 330.3,550.3 321.2,550.3 317.3,558 312,572 307,562 310,545 314,532 317.3,516.5"/>
<polygon fill="#f5f506" points="336.8,543.8 346,543.8 356.4,532 359,547.7 351,558 346,560.7 340.7,553 333,553"/>
<polygon fill="#f54000" points="368,500.8 383.7,500.8 389,504.7 385,508.6 377.2,511.25 368,510"/>
<polygon fill="#f54000" points="365.5,529.5 370.7,530.8 373.3,536 366.8,539.9 364.2,536"/>
<polygon fill="#f6b800" points="385,550.3 394,553 403.2,566 396.7,573.75 400.6,585.5 391.5,585.5 387.6,576.4 379.8,569.8 382.4,560.7"/>
<polygon fill="#f6b800" points="621,389.7 629,391 631.6,397.5 627.7,402.7 623.8,401.4 622.5,406.6 620.5,402.7"/>
<polygon fill="#f6b800" points="673,264.5 690,266 690,280 678,282 672,274"/>
<polygon fill="#f6b800" points="690,273.6 706,275 706,285.3 694,285"/>
<polygon fill="#f6b800" points="638,298 646,298 646,303.5 638,303.5"/>
<polygon fill="#f67a08" points="640.7,311 659,312 659,324 645,322"/>
<polygon fill="#f67a08" points="582,489.5 592.4,484.3 600.2,488.2 601.5,502.5 595,513 584.6,518 574.2,524.6 570.25,522 574.2,513 565,510.3 566.4,505 574.2,498.6"/>
<polygon fill="#f54000" points="587.2,487 599,488.2 600.2,505 592.4,514.2 587.2,513 591,502.5 584.6,494.7"/>
<polygon fill="#f6b800" points="490.5,471.5 508.5,471.5 508.5,481.5 490.5,481.5"/>
<polygon fill="#f6b800" points="443,647.6 450,642 452,650 446,651"/>
</g>
<use href="#lin"/>
<g transform="translate(774,0)">
<g clip-path="url(#brc)"><polygon fill="#f5f506" points="205,127.5 237.5,126 242.5,122.5 250,125 251,112.5 262.5,111 262.5,125 271,142.5 270,154 262.5,155 250,160 240,167.5 235,190 226,187.5 221,165 217.5,142.5"/>
<polygon fill="#f5f506" points="290,152.5 299,147.5 320,142.5 347,144 352,153 345.6,168.5 343,179 340.4,192 347,202.4 350,205 347.5,215 335,220 322.5,212.5 305,200 292.5,185 290,174"/>
<polygon fill="#f5f506" points="353.4,134.7 365,133.4 367.8,143.8 379.5,146.4 391.2,153 397.7,163.3 403,176.4 408,184 413.3,196 421,201 408,207.6 403,213 400,222 392,226 390,235 380,236 384,222 386,213 382,192 373,179 363.9,166 360,153"/>
<polygon fill="#f5f506" points="270,175 287.5,175 291,190 307.5,210 315,222.5 335,222.5 332.5,235 325,237.5 322.5,227.5 310,230 295,207.5 282.5,195 270,190 267.5,180"/>
<polygon fill="#f5f506" points="256.3,217.2 268.8,215.6 273.5,226.6 279.75,232.8 286,226.6 295.4,236 306.3,239 301.6,246.9 292.25,245.3 286,239.5 273.5,238 262.6,234.4 256.3,228"/>
<polygon fill="#f5f506" points="132.5,221 145,216 155,220 165,222.5 160,227.5 155,226 150,236 145,235 144,227.5 135,227.5"/>
<polygon fill="#f5f506" points="180,240 190,246 185,254 172.5,260 160,277.5 140,281 139,276 155,260 172.5,252.5"/>
<polygon fill="#f5f506" points="145,359 157.5,356 166,360 150,362.5"/>
<polygon fill="#f5f506" points="170,362.5 172.5,350 190,345 200,332.5 215,331 232.5,342.5 237.5,362.5 230,366 222.5,357.5 212.5,342.5 200,345 197.5,362.5 187.5,367.5 190,377.5 202.5,385 205,395 220,397.5 222.5,412.5 215,420 207.5,419 197.5,414 185,411 173,399 168,382.5"/>
<polygon fill="#f5f506" points="241,346 287.5,346 287.5,365 275,364 272.5,354 260,354 257.5,365 241,366"/>
<polygon fill="#f5f506" points="469,196 476.5,200 475,210 485,202.5 486.5,215 481.5,230 480,250 496.5,255 504,257.5 494,270 484,270 478,265 466.5,260 474,247.5 466.5,235 471.5,222.5 478,215 469,207.5"/>
<polygon fill="#f5f506" points="441.7,333.3 463.3,335 460,346.7 443.3,346.7"/>
<polygon fill="#f5f506" points="466.7,255 476.7,246.7 500,251.7 506.7,258.3 496.7,268.3 486.7,270 478.3,268.3 476.7,258.3"/>
<polygon fill="#f5f506" points="568.3,276.7 583.3,276.7 580,286.7 570,283.3"/>
<polygon fill="#f5f506" points="578.3,261.7 588.3,260 586.7,266.7"/>
<polygon fill="#f5f506" points="586,226 606,233 608,240 598,242 592,236"/>
<polygon fill="#f5f506" points="575,296 584,292 582,300 574,302"/>
<polygon fill="#f5f506" points="546.7,320 570,306.7 580,305 575,323.3 573.3,346.7 566.7,363.3 573.3,373.3 563.3,378.3 556.7,381.7 548.3,381.7 540,370 535,356.7 536.7,340"/>
<polygon fill="#f5f506" points="526.7,318.3 543.3,311.7 546.7,320 536.7,333.3 533.3,346.7 535,366.7 526.7,368.3 521.7,356.7 515.8,346.7 521.7,336.7 525,330"/>
<polygon fill="#f5f506" points="526.7,390 536.7,373.3 546.7,383.3 571.7,376.7 580,366.7 585,390 586.7,410 584,430 581,438 575,437 575,429 566,431.5 559,438 546,447 536,452 533,437 530,421 530,410 546.7,400 560,396.7 563.3,410 575,412 578,400 570,392 556,390 540,396"/>
<polygon fill="#f5f506" points="488.3,366.7 500,368.3 496.7,373.3 490,373.3"/>
<polygon fill="#f5f506" points="508.3,386.7 518.3,386.7 513.3,400 506.7,400"/>
<polygon fill="#f5f506" points="448.3,396.7 466.7,395 478.5,408 470.7,415.8 460.3,417 447.3,412"/>
<polygon fill="#f5f506" points="505.9,395 515,395 511,402.8 505.9,402.8"/>
<polygon fill="#f5f506" points="612,232 609.5,238.4 601.5,241 594.5,250.3 596.9,264.4 599.2,278.4 589.8,285.5 585.1,294.8 592.2,306.6 585.1,316 578.1,325.3 575.8,339.4 583,344 575.8,353.4 568.75,362.8 575.6,365 582,361 583.4,371.5 584.7,382 586,393.6 588.6,408 586,423.5 583.4,436.5 586,447 590,457.4 596.5,462.6 599,465 609.5,462.6 621,458.7 627.7,452 635.5,452 643,444 643,436.5 635.5,431 646,425 653.7,418 661.5,413 656,402.7 664,405 674.6,408 677,400 685,397.5 692.8,384.5 695.4,371.5 703,366 712,361 713.6,345.4 722.8,334.8 729,328 739.7,319 741,310 741,293 741,285 734,277.5 724,274 696.5,266 679,250 659,236 641.5,230 612,231"/>
<g clip-path="url(#caat)"><rect x="560" y="220" width="200" height="260" filter="url(#spk2)"/></g><polygon fill="#ffffff" points="600,245 620,238 623,252 626,265 624,270 629,280 618,284 612,290 606,278 598,262"/>
<polygon fill="#ffffff" points="716,275 734,278 738,297 722,298 715,297 712,285"/>
<polygon fill="#ffffff" points="690,300 698,293 700,296 695,304 700,307 707,306 704,317 696,317 688,312"/>
<polygon fill="#ffffff" points="650,370 640,368 637,360 648,352 661,348.7 672,352 674,360 683,372 688,380 682,384 686,392 676,398 664,403 655,401 660,412 650,420 640,428 636,432 626,430 624,420 626,410 634,404 640,396 632,390 640,382 643,374"/>
<polygon fill="#ffffff" points="590,376 598,374 594,386 598,392 596,398 598,410 603,420 609,428 618,437 627,440 640,440 636,450 625,452 610,460 598,462 590,455 587,440 589,425 590,410 588,395"/>
<polygon fill="#ffffff" points="604,392 614,393 612,385 621,384 620,390 621,403 616,399 608,397"/>
<polygon fill="#f5f506" points="603,391 614.7,392 621,408 621,418 625,428.7 620,436.5 609.5,426 603,418 599,408 596.5,397.5"/>
<polygon fill="#ffffff" points="662,326 672,328 676,336 668,340 660,334"/>
<polygon fill="#ffffff" points="640,323 650,321 655,327 647,331"/>
<polygon fill="#ffffff" points="600,300 610,296 614,306 605,312"/>
<polygon fill="#ffffff" points="590,320 600,318 604,330 596,338 588,332"/>
<polygon fill="#ffffff" points="610,330 620,326 626,334 616,340"/>
<polygon fill="#ffffff" points="652,262 660,258 664,266 656,270"/>
<polygon fill="#ffffff" points="632,242 642,240 646,250 636,254"/>
<polygon fill="#ffffff" points="668,276 676,274 678,282 670,286"/>
<polygon fill="#ffffff" points="644,290 652,288 654,298 646,300"/>
<polygon fill="#ffffff" points="700,344 712,340 716,346 706,352"/>
<polygon fill="#ffffff" points="694,372 704,368 708,376 700,382 692,384"/>
<polygon fill="#f5f506" points="666.8,361 677,358.4 682.4,369 674.6,371.5 669,366"/>
<polygon fill="#f5f506" points="661.5,392 672,393.6 674.6,398.8 664,400"/>
<polygon fill="#f5f506" points="633,400 640.7,402 638,406"/>
<polygon fill="#f5f506" points="449.9,435.4 462.9,431.5 470.7,425 481,425 486.4,431.5 500.7,432.8 511,434 512.4,455 507.2,470.5 494,470.5 483.75,475.7 481,470.5 489,462.7 494,452.3 473.3,456.2 470.7,451 481,443 470.7,438 455,440.6"/>
<polygon fill="#f5f506" points="491.6,486 507.2,483.5 509,492 511.7,497.3 507.8,507.7 509,518 502,525.2 496.8,512.2 496.8,499.2"/>
<polygon fill="#f5f506" points="520.2,465.3 528,465.3 528,475.7 520.2,475.7"/>
<polygon fill="#f5f506" points="538.4,479.6 546.25,475.7 554,494 564.5,494 569.7,503 559.3,512.2 552,520 540.6,520 538,533 536.7,546 535.4,559 540.6,574.7 530.2,572 517.2,565.6 510.7,559 506.8,555 493.75,556.5 491,543.4 499,533 504,525 509,518 509.8,512.2 515,499.2 528,496.6 535.8,488.75"/>
<polygon fill="#f5f506" points="513,440 528,440 531,447 533,455 524.7,457 516.9,464.7 518.2,473.9 509,479 509,492 511.7,497.3 522,513 527.3,502.5 522,497.3 535,492 540.3,477.8 545.5,477.8 550.7,485.6 553.3,497.3 561,501 561,492 569,488 574,498 566,505 565,510 574,513 570,522 560,518 552,510 545,505 538,500 530,505 522,515 514,518 505,520 504,500 500,480 505,470 510,455"/>
<polygon fill="#ffffff" points="541,518 552,513 566,516 570,524 566,534 560,540 550,541 543,536 538,527"/>
<polygon fill="#f5f506" points="508,556.5 512,572 504,585 499,598 491,608.5 483.3,619 475.5,632 470.3,637.2 475.5,613.75 480.7,606 491,603.3 496.4,593 499,580 501.6,566.9"/>
<polygon fill="#f5f506" points="566.7,524 575.8,520 582.3,525.2 579.7,533 584.9,546 582.3,552.6 564,552.6 558.9,543.4 569.3,535.6"/>
<polygon fill="#f5f506" points="574,528 584,541 584,551 572,552 566,546"/>
<polygon fill="#f5f506" points="400,527.8 407.8,527.8 415.6,534.3 426,538.2 423.4,527.8 433.9,525.2 439,540.8 426,543.4 413,546 407.8,556.5 410.4,569.5 400,564.3"/>
<polygon fill="#f5f506" points="443,647.6 452,632 461,630.7 457.3,645 467.7,642.4 465,651.5 457.3,650 449.5,650"/>
<polygon fill="#f5f506" points="390,399 397.8,408 403,421 397.8,427.5 390,428.9"/>
<polygon fill="#f5f506" points="390,462.7 405.6,457.5 407,462.7 395.2,468 390,468"/>
<polygon fill="#f5f506" points="390,473 397.8,475.7 403,483.5 395.2,491.4 390,488.75"/>
<polygon fill="#f5f506" points="407,494 416,491.4 413.4,499.2 408.2,501.8"/>
<polygon fill="#f5f506" points="416,512.2 423.9,507 433,517.4 434.3,525.2 422.5,525.2"/>
<polygon fill="#f5f506" points="374.6,480 403.2,480 400.6,487.8 390.2,493 382.4,487.8"/>
<polygon fill="#f5f506" points="409.7,493 417.5,493 413.6,503.4 408.4,500.8"/>
<polygon fill="#f5f506" points="416.25,513.8 424,506 434.5,516.5 437,526.9 439.7,539.9 429.3,537.3 422.8,529.5 426.7,523"/>
<polygon fill="#f5f506" points="452.7,515 462,514 462,523 456,522"/>
<polygon fill="#f5f506" points="368,513.8 377.2,523 390.2,519 398,524.3 403.2,532 416.25,536 413.6,545 407,553 403.2,563.3 412.3,571 403.2,573.75 394,556 382.4,553 377.2,558 369.4,556.8 377.2,547.7 374.6,539.9 377.2,532 369.4,524.3"/>
<polygon fill="#f5f506" points="286.5,444.2 302,444.2 304.7,450.7 302,458.5 289,458.5 285,450.7"/>
<polygon fill="#f5f506" points="274.7,411.7 290.4,410.4 286.5,419.5 280,427.3 273.4,424.7"/>
<polygon fill="#f5f506" points="263,426 270.8,428.6 276,443 265.6,443 260.4,435"/>
<polygon fill="#f5f506" points="311.2,453.3 323,453.3 323,463.75 316.4,471.5 306,470 289,471.5 289,466.4 302,463.75"/>
<polygon fill="#f5f506" points="333,469 341,461 359.4,458.5 362,463.75 356.8,474.2 349,472.9 341,471.5"/>
<polygon fill="#f5f506" points="388,461 406.25,457.2 405,466.4 393.2,471.5 403.6,479.4 406.25,487.2 393.2,493.7 380.2,487.2 372.4,478 373.7,469"/>
<polygon fill="#f5f506" points="410,491 418,492.4 414,500"/>
<polygon fill="#f5f506" points="333,445 345,440 358,440 364,448 362,456 366,464 360,472 350,478 343,474 336,480 330,478 326,468 331,458"/>
<polygon fill="#f5f506" points="336.8,543.8 346,543.8 356.4,532 359,547.7 351,558 346,560.7 340.7,553 333,553"/>
<polygon fill="#f5f506" points="442,640 450,636 452,644 444,648"/>
<polygon fill="#f67a08" points="313,749 330,733 346.7,713 350,711 360,710 370,713 376.7,716 393,720 398,725 395,731.7 380,730 363,732.5 361.7,735 373,737.5 390,740 401.7,742.5 418,740 426.7,737.5 436,739 438,744 433,752 430,760 422,773 413,781 406,790 401,797 400,796 396.7,790 390,790 380,781.7 370,775 358,770 351.7,761.7 345,763 335,753 325,746.7"/>
<polygon fill="#f6b800" points="342,722 350,714 362,716 374,720 372,728 362,731 352,730 344,734 336,738 332,736"/>
<polygon fill="#f5f506" points="364,723 379,724 378,729.7 366,729"/>
<polygon fill="#f5f506" points="340.8,734.7 355.7,733 365.7,739.7 379,744.6 375.6,752.9 365.7,756.3 355.7,752.9 345.75,746.3 339,739.7"/>
<polygon fill="#f6b800" points="369,743 398.9,745 398,758 386,759.6 376,756"/>
<polygon fill="#f6b800" points="322,744 336,738 344,748 340,754 330,750"/>
<polygon fill="#f40000" points="345.75,754.6 362.3,754.6 364,761.2 355.7,762.9 347.4,759.6"/>
<polygon fill="#f54000" points="402,749.6 420,744 428.7,750 426,764 418,774 408,776.2 400,770 398,758"/>
<polygon fill="#f40000" points="383.9,752.9 398.9,752.9 402.2,762.9 392.2,766.2 382.3,759.6"/>
<polygon fill="#f40000" points="402.2,762.9 415.5,759.6 418.8,769.5 408.8,776.2 400.5,772.9"/>
<polygon fill="#f6b800" points="379,776 392,770 404,778 415.5,780 412,792.8 398,792 388,786"/>
<polygon fill="#f5f506" points="435.4,741 446.7,743.3 453.6,748 444,750 437,747"/>
<polygon fill="#f5f506" points="401.7,735 413.3,733.3 415,738.3 403.3,740"/>
<polygon fill="#f5f506" points="299.5,376.5 312.5,374 328,374 336,383 341,387 354,385.6 367.2,384.3 371,377.8 380.2,376.5 398.4,381.7 395.8,390.8 390.6,403.9 398.4,409 405,422 395.8,430 380,432 372,430 366,434 360,446 350,450 340,455 332,447 327,441 322,436 316,424 307,421 300,406 299,395"/>
<polygon fill="#f5f506" points="245.4,268.75 251.6,273.4 267.25,271 275,275 276.6,284.4 282.9,293.75 281.3,300 273.5,301.6 272,307.8 261,311 257.9,318.75 261,328 261,343 234.4,343 232.9,329.7 236,315.6 239,300 236,293.75 218.8,298.4 226.6,289 232.9,279.7"/>
<polygon fill="#f6b800" points="258,111 269,111 266,119 260,130 258,128"/>
<polygon fill="#f6b800" points="388,386 398,388 396,394 388,402 370,412 362,410 366,404 380,396"/>
<polygon fill="#f5f506" points="367.2,435 394.5,437.7 396,452 390,454 377.6,453.3 369.8,445.5"/>
<polygon fill="#f5f506" points="277,409 292.7,409 288.8,421 283,432.8 273,425"/>
<polygon fill="#f67a08" points="264.3,444.2 274.7,445.5 281.25,458.5 287.8,471.5 294,476 304,479 301,487 266,487 264,465"/>
<polygon fill="#f40000" points="264.3,449 274,452 280,462 282,472 276,478 268,480 265,465"/>
<polygon fill="#f40000" points="299,484 317.3,485.2 318.6,506 314.7,511.25 303,503.4 298,494"/>
<polygon fill="#f6b800" points="318.6,493 330.3,487.8 336.8,493 334.2,503.4 327.7,508.6 317.3,513.8 314.7,511.25 318.6,506"/>
<polygon fill="#f6b800" points="324.2,472.9 341,474.2 333.3,483.3"/>
<polygon fill="#f67a08" points="336.8,493 343.75,476 356.4,488 364,497 363,508 353.75,506 343.3,503.4 334.2,503.4"/>
<polygon fill="#f40000" points="327.7,508.6 343.3,504.7 359,510 359,523 351,537.3 346,543.8 336.8,543.8 330.3,550.3 321.2,550.3 317.3,558 312,572 307,562 310,545 314,532 317.3,516.5"/>
<polygon fill="#f6b800" points="336.8,543.8 346,543.8 356.4,532 359,547.7 351,558 346,560.7 340.7,553 333,553"/>
<polygon fill="#f67a08" points="348,540 357,530 359,547.7 354,555 348,552"/>
<polygon fill="#f40000" points="343.3,504.7 359,510 361,524 357,532 349,540 340,545 336.8,543.8 346,543.8 351,537.3 359,523"/>
<polygon fill="#f40000" points="368,500.8 383.7,500.8 389,504.7 385,508.6 377.2,511.25 368,510"/>
<polygon fill="#f40000" points="365.5,529.5 370.7,530.8 373.3,536 366.8,539.9 364.2,536"/>
<polygon fill="#f5f506" points="385,550.3 394,553 403.2,566 396.7,573.75 400.6,585.5 391.5,585.5 387.6,576.4 379.8,569.8 382.4,560.7"/>
<polygon fill="#ffffff" points="632.8,337 650,335 668,340 666,352 650,357 636,352"/>
<polygon fill="#ffffff" points="652,238 668,244 676,252 668,256 656,250"/>
<polygon fill="#ffffff" points="640,262 650,260 654,272 646,280 640,274"/>
<polygon fill="#ffffff" points="600,330 612,326 618,340 606,348 598,342"/>
<polygon fill="#ffffff" points="596,286 606,284 610,296 600,300"/>
<polygon fill="#ffffff" points="606,402 618,404 622,418 624,430 616,434 608,424"/>
<polygon fill="#ffffff" points="700,300 716,300 722,310 708,316 700,310"/>
<polygon fill="#f67a08" points="665.8,263 680,262 693.7,268 690,282 676,286 668,276"/>
<polygon fill="#f54000" points="672,266 686,266 688,278 676,280"/>
<polygon fill="#f54000" points="691,271 704,272 709,284 700,291 692,286"/>
<polygon fill="#f40000" points="694,273 702,275 704,284 696,283"/>
<polygon fill="#f6b800" points="617.5,288.6 630,290 635,304 622,302"/>
<polygon fill="#f54000" points="638,311.5 652,312 663,320 655,326.7 644,322"/>
<polygon fill="#f40000" points="646,315 654,316 655,323 648,322"/>
<polygon fill="#f6b800" points="544,330 552,318 566,316.5 574,326 572,345 566,357 552,352 546,342"/>
<polygon fill="#f6b800" points="607.4,362 622,357 636,360 645.5,370 640,382 626,378 614,380 608,372"/>
<polygon fill="#f6b800" points="607.4,408 617.5,408 617.5,418 609,418"/>
<polygon fill="#f6b800" points="688.6,322 700,319 704,330 696,337 690,332"/>
<polygon fill="#f6b800" points="582,489.5 592.4,484.3 600.2,488.2 601.5,502.5 595,513 584.6,518 578,520 580,508 586,500"/>
<polygon fill="#f67a08" points="590,488 599,488.2 600.2,502 594,508 590,500"/>
<polygon fill="#f6b800" points="537.1,488.4 551.8,482.5 557.6,497.2 551.8,517.7 544.5,514.8 546,503"/>
<polygon fill="#f6b800" points="499,440 512,438.6 513.7,448 503,450.3"/>
<polygon fill="#f67a08" points="490.5,471.5 508.5,471.5 508.5,481.5 490.5,481.5"/>
</g>
<use href="#lin"/>
</g>
<circle cx="673.2" cy="518.5" r="2.6" fill="#000"/><circle cx="1447.2" cy="518.5" r="2.6" fill="#000"/>
<text x="8.35" y="634.9" font-size="24" font-weight="bold" font-style="normal" textLength="92.6" lengthAdjust="spacingAndGlyphs">Legend</text>
<rect x="9.25" y="655.95" width="51.3" height="25.8" rx="1" fill="#fff" stroke="#000" stroke-width="4.9"/>
<text x="70.3" y="677.4" font-size="22" font-weight="normal" font-style="normal" textLength="188.5" lengthAdjust="spacingAndGlyphs">Biome boundaries</text>
<rect x="9.2" y="691.9" width="51.3" height="24.9" fill="#fff" stroke="#000" stroke-width="2"/>
<text x="69.8" y="712.3" font-size="21.5" font-weight="normal" font-style="normal" textLength="174.4" lengthAdjust="spacingAndGlyphs">State boundaries</text>
<text x="8.7" y="749.5" font-size="22.8" font-weight="bold" font-style="normal" textLength="271.7" lengthAdjust="spacingAndGlyphs">High Risk Carbon Loss</text>
<text x="12" y="785.5" font-size="22.5" font-weight="normal" font-style="italic" textLength="153" lengthAdjust="spacingAndGlyphs">Tonnes of CO2</text>
<rect x="9.25" y="799" width="51.5" height="25.5" fill="#f5f506"/>
<rect x="9.25" y="835" width="51.5" height="25.5" fill="#f6b800"/>
<rect x="9.25" y="870.5" width="51.5" height="25.5" fill="#f67a08"/>
<rect x="9.25" y="906" width="51.5" height="25.5" fill="#f54000"/>
<rect x="9.25" y="941.75" width="51.5" height="25.5" fill="#f40000"/>
<text x="70.1" y="820.15" font-size="22" font-weight="normal" font-style="normal" textLength="119.669" lengthAdjust="spacingAndGlyphs">0 - 163 766</text>
<text x="70.1" y="855.9" font-size="22" font-weight="normal" font-style="normal" textLength="192.187" lengthAdjust="spacingAndGlyphs">163 767 - 600 273</text>
<text x="70.1" y="891.4" font-size="22" font-weight="normal" font-style="normal" textLength="212.431" lengthAdjust="spacingAndGlyphs">600 274 - 1 429 029</text>
<text x="70.1" y="927.15" font-size="22" font-weight="normal" font-style="normal" textLength="232.419" lengthAdjust="spacingAndGlyphs">1 429 030 - 2 872 487</text>
<text x="70.1" y="962.9" font-size="22" font-weight="normal" font-style="normal" textLength="232.419" lengthAdjust="spacingAndGlyphs">2 872 488 - 5 666 487</text>
<text x="746.6" y="640" font-size="20.6" font-weight="bold" font-style="normal" textLength="81.1" lengthAdjust="spacingAndGlyphs">Legend</text>
<rect x="747" y="661" width="45" height="22.5" rx="1" fill="#fff" stroke="#000" stroke-width="4.6"/>
<text x="800.75" y="680.5" font-size="22.5" font-weight="normal" font-style="normal" textLength="193.75" lengthAdjust="spacingAndGlyphs">Biome boundaries</text>
<rect x="746.9" y="696.8" width="45.9" height="21.8" fill="#fff" stroke="#000" stroke-width="2"/>
<text x="800.3" y="716.7" font-size="22.5" font-weight="normal" font-style="normal" textLength="183.5" lengthAdjust="spacingAndGlyphs">State boundaries</text>
<text x="746.9" y="752.1" font-size="21" font-weight="bold" font-style="normal" textLength="305" lengthAdjust="spacingAndGlyphs">High Risk Vegetation Loss</text>
<text x="748" y="787.5" font-size="22.5" font-weight="normal" font-style="italic" textLength="95.5" lengthAdjust="spacingAndGlyphs">Hectares</text>
<rect x="746.75" y="803" width="45.25" height="22" fill="#f5f506"/>
<rect x="746.75" y="838.75" width="45.25" height="22" fill="#f6b800"/>
<rect x="746.75" y="874.5" width="45.25" height="22" fill="#f67a08"/>
<rect x="746.75" y="910" width="45.25" height="22" fill="#f54000"/>
<rect x="746.75" y="945.5" width="45.25" height="22" fill="#f40000"/>
<text x="800.75" y="823" font-size="23" font-weight="normal" font-style="normal" textLength="86.25" lengthAdjust="spacingAndGlyphs">0 - 3037</text>
<text x="800.75" y="858.5" font-size="23" font-weight="normal" font-style="normal" textLength="141.25" lengthAdjust="spacingAndGlyphs">3038 - 10842</text>
<text x="800.75" y="893" font-size="23" font-weight="normal" font-style="normal" textLength="155" lengthAdjust="spacingAndGlyphs">10843 - 24815</text>
<text x="800.75" y="929.25" font-size="23" font-weight="normal" font-style="normal" textLength="154.25" lengthAdjust="spacingAndGlyphs">24816 - 46797</text>
<text x="800.75" y="964.75" font-size="23" font-weight="normal" font-style="normal" textLength="154.25" lengthAdjust="spacingAndGlyphs">46798 - 92387</text>
<g fill="none" stroke="#000">
<path d="M1446.6 58 L1447.6 187.5" stroke-width="2.4"/>
<path d="M1446.6 62 L1467.6 113.5 L1448 102.5" stroke-width="3.3" stroke-linejoin="miter" stroke-miterlimit="10"/>
<path d="M1436.2 147 h3.3 v32 h-3.3z M1457.9 147 h3.3 v32 h-3.3z M1436.2 147 h4.4 l20.6 32 h-4.4z" fill="#000" stroke="none"/>
</g>
<clipPath id="inc"><polygon points="1310.8,804.9 1316.9,794 1324.6,788 1333,785 1335.3,769.6 1332.3,760.3 1335.3,755.7 1346,752.7 1352.2,757.3 1358.4,755.7 1367.6,749.6 1363,745 1361.5,741 1367.6,742.7 1376.8,739.6 1383.7,735.8 1387.6,740.4 1388.4,749.6 1393.7,755.7 1401.4,753.4 1413.7,752.7 1422.9,753.4 1430.6,740.4 1435.2,748 1439,755.7 1441.4,761.9 1452.1,768 1464.4,771.9 1470.6,776.5 1479.8,776.5 1492.1,779.5 1504.4,784.9 1515.1,791 1519.7,797.2 1522.8,811 1515.1,823.3 1505.9,832.6 1501.3,841.8 1499.2,849.6 1496.3,859.8 1500.7,861.3 1494.8,864.2 1491.9,873 1480,883 1462.6,892 1453.8,897.9 1446.5,905.3 1449.4,911 1443.5,918.4 1439.1,925.8 1432,930 1423,932 1414,926 1408.4,915.5 1418.6,911 1420,905.3 1415.7,902.3 1417.2,895 1409.8,892 1406.9,883.3 1396.6,881.8 1398.1,873 1397.5,862 1396.6,854 1386,848 1383,843.3 1376.8,838.7 1367.6,832.6 1358.4,826.4 1356.9,817.2 1346,820.3 1330.7,823.3 1329.2,817.2 1315.4,814"/></clipPath>
<g clip-path="url(#inc)">
<polygon points="1310.8,804.9 1316.9,794 1324.6,788 1333,785 1335.3,769.6 1332.3,760.3 1335.3,755.7 1346,752.7 1352.2,757.3 1358.4,755.7 1367.6,749.6 1363,745 1361.5,741 1367.6,742.7 1376.8,739.6 1383.7,735.8 1387.6,740.4 1388.4,749.6 1393.7,755.7 1401.4,753.4 1413.7,752.7 1422.9,753.4 1430.6,740.4 1435.2,748 1439,755.7 1441.4,761.9 1452.1,768 1464.4,771.9 1470.6,776.5 1479.8,776.5 1492.1,779.5 1504.4,784.9 1515.1,791 1519.7,797.2 1522.8,811 1515.1,823.3 1505.9,832.6 1501.3,841.8 1499.2,849.6 1496.3,859.8 1500.7,861.3 1494.8,864.2 1491.9,873 1480,883 1462.6,892 1453.8,897.9 1446.5,905.3 1449.4,911 1443.5,918.4 1439.1,925.8 1432,930 1423,932 1414,926 1408.4,915.5 1418.6,911 1420,905.3 1415.7,902.3 1417.2,895 1409.8,892 1406.9,883.3 1396.6,881.8 1398.1,873 1397.5,862 1396.6,854 1386,848 1383,843.3 1376.8,838.7 1367.6,832.6 1358.4,826.4 1356.9,817.2 1346,820.3 1330.7,823.3 1329.2,817.2 1315.4,814" fill="#d3aa70"/>
<polygon points="1310.8,804.9 1316.9,794 1324.6,788 1333,785 1335.3,769.6 1332.3,760.3 1335.3,755.7 1346,752.7 1352.2,757.3 1358.4,755.7 1367.6,749.6 1363,745 1361.5,741 1367.6,742.7 1376.8,739.6 1383.7,735.8 1387.6,740.4 1388.4,749.6 1393.7,755.7 1401.4,753.4 1413.7,752.7 1422.9,753.4 1430.6,740.4 1435.2,748 1439,755.7 1441.4,761.9 1452.1,768 1464.4,771.9 1470.6,776.5 1467.5,786.5 1461.3,792.6 1450.6,794 1449,804.9 1441.4,814 1438.3,823.3 1433.7,832.6 1422.9,837.2 1416.8,834 1407.6,829.5 1404.5,835.6 1401.4,841.8 1395.3,838.7 1392.2,828 1387.6,826.4 1386,832.6 1387.6,841.8 1383.7,844 1383,843.3 1376.8,838.7 1367.6,832.6 1358.4,826.4 1356.9,817.2 1346,820.3 1330.7,823.3 1329.2,817.2 1315.4,814" fill="#4a6b14"/>
<polygon points="1387,828 1392,826 1397,834 1402,842 1396,848 1388,846 1385,836" fill="#d3aa70"/>
<polygon points="1388,842 1396,840 1400,846 1392,850" fill="#4a6b14"/>
<polygon points="1479.8,776.5 1492.1,779.5 1504.4,784.9 1515.1,791 1519.7,797.2 1522.8,811 1515.1,823.3 1508,829 1499.7,829.5 1495.1,835.6 1487.5,843.3 1478.2,844.9 1475.2,832.6 1476.7,817.2 1473.6,804.9 1476.7,789.5" fill="#f5f0b0"/>
<polygon points="1478,845 1481.6,854 1470,864 1458,870 1452,862 1448,859.8 1440,862 1436.2,864.2 1432,872 1430.3,878.9 1418,880 1395,881 1395,940 1530,940 1530,800 1523,811 1515,823 1508,829 1499.7,829.5 1495.1,835.6 1487.5,843.3" fill="#a9cf9c"/>
<polygon points="1442,874.5 1448,883.3 1442,893.5 1437,893 1440,884" fill="#d3aa70"/>
<polygon points="1422,892 1442,890 1444,906 1442,920 1430,928 1418,918 1417,902" fill="#b6d7a8"/>
<polygon points="1404,850 1411.5,850 1412,862 1410,870 1404,870" fill="#cfe3f2"/>
</g>
<polygon points="1310.8,804.9 1316.9,794 1324.6,788 1333,785 1335.3,769.6 1332.3,760.3 1335.3,755.7 1346,752.7 1352.2,757.3 1358.4,755.7 1367.6,749.6 1363,745 1361.5,741 1367.6,742.7 1376.8,739.6 1383.7,735.8 1387.6,740.4 1388.4,749.6 1393.7,755.7 1401.4,753.4 1413.7,752.7 1422.9,753.4 1430.6,740.4 1435.2,748 1439,755.7 1441.4,761.9 1452.1,768 1464.4,771.9 1470.6,776.5 1479.8,776.5 1492.1,779.5 1504.4,784.9 1515.1,791 1519.7,797.2 1522.8,811 1515.1,823.3 1505.9,832.6 1501.3,841.8 1499.2,849.6 1496.3,859.8 1500.7,861.3 1494.8,864.2 1491.9,873 1480,883 1462.6,892 1453.8,897.9 1446.5,905.3 1449.4,911 1443.5,918.4 1439.1,925.8 1432,930 1423,932 1414,926 1408.4,915.5 1418.6,911 1420,905.3 1415.7,902.3 1417.2,895 1409.8,892 1406.9,883.3 1396.6,881.8 1398.1,873 1397.5,862 1396.6,854 1386,848 1383,843.3 1376.8,838.7 1367.6,832.6 1358.4,826.4 1356.9,817.2 1346,820.3 1330.7,823.3 1329.2,817.2 1315.4,814" fill="none" stroke="#000" stroke-width="2.2" stroke-linejoin="round"/>
<text x="1362" y="805.5" font-size="34" font-weight="bold" textLength="54" lengthAdjust="spacingAndGlyphs" stroke="#fff" stroke-width="4.5" stroke-linejoin="round" paint-order="stroke">AM</text>
<text x="1475.5" y="822" font-size="34" font-weight="bold" textLength="50.5" lengthAdjust="spacingAndGlyphs" stroke="#fff" stroke-width="4.5" stroke-linejoin="round" paint-order="stroke">CA</text>
<text x="1421.7" y="850" font-size="34" font-weight="bold" textLength="46.8" lengthAdjust="spacingAndGlyphs" stroke="#fff" stroke-width="4.5" stroke-linejoin="round" paint-order="stroke">CE</text>
<text x="1372.5" y="874.6" font-size="34" font-weight="bold" textLength="42" lengthAdjust="spacingAndGlyphs" stroke="#fff" stroke-width="4.5" stroke-linejoin="round" paint-order="stroke">PT</text>
<text x="1447.4" y="893.4" font-size="34" font-weight="bold" textLength="44.6" lengthAdjust="spacingAndGlyphs" stroke="#fff" stroke-width="4.5" stroke-linejoin="round" paint-order="stroke">AF</text>
<text x="1398" y="942.6" font-size="34" font-weight="bold" textLength="42.4" lengthAdjust="spacingAndGlyphs" stroke="#fff" stroke-width="4.5" stroke-linejoin="round" paint-order="stroke">PA</text>
<text transform="translate(1298.5,906) rotate(-90)" font-size="34" font-weight="bold" textLength="124" lengthAdjust="spacingAndGlyphs">Biomes</text>
<circle cx="1533" cy="785" r="0.9" fill="#333"/>
</svg></body></html>
